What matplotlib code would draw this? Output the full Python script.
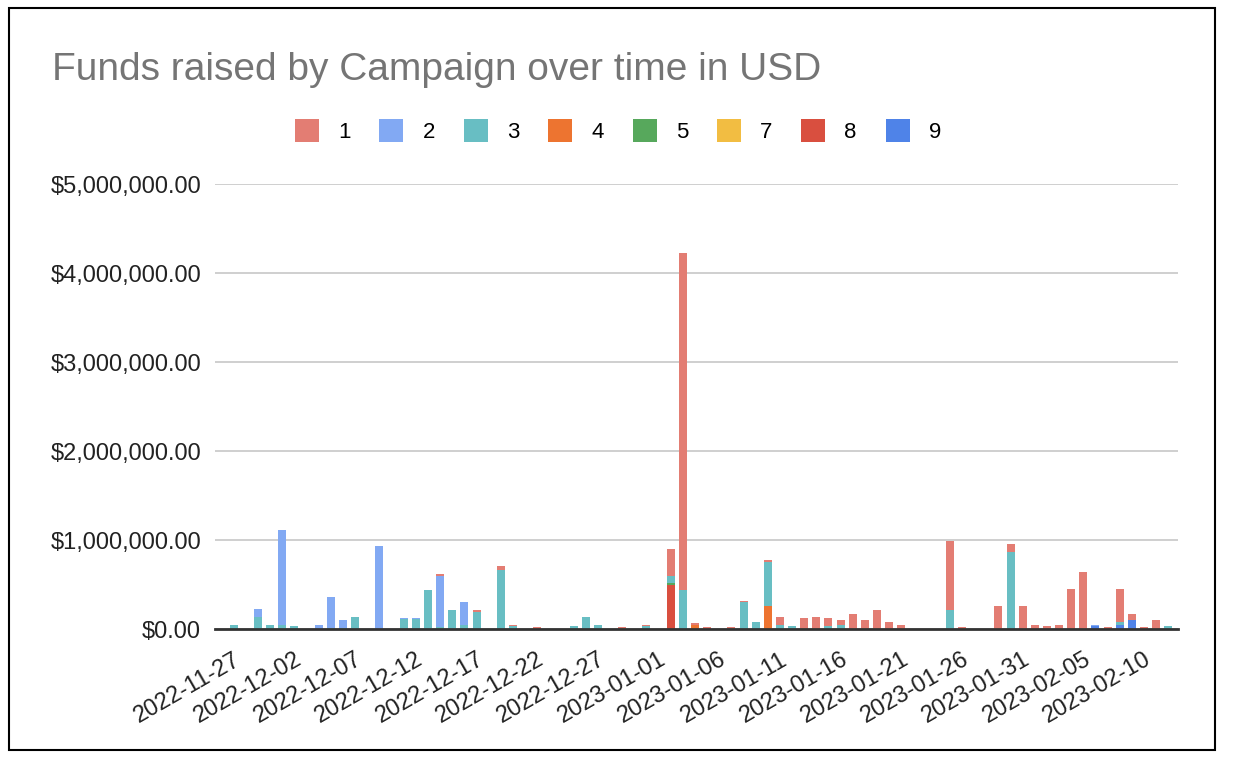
import pandas as pd
import matplotlib
matplotlib.use("Agg")
import matplotlib.pyplot as plt
import matplotlib.dates as mdates
from matplotlib.ticker import FuncFormatter, MultipleLocator
from matplotlib.patches import Rectangle

plt.rcParams['font.family'] = ['Liberation Sans', 'DejaVu Sans']

# days that have donations
dates = [
    '2022-11-27', '2022-11-29', '2022-11-30', '2022-12-01', '2022-12-02', '2022-12-04',
    '2022-12-05', '2022-12-06', '2022-12-07', '2022-12-09', '2022-12-11', '2022-12-12',
    '2022-12-13', '2022-12-14', '2022-12-15', '2022-12-16', '2022-12-17', '2022-12-19',
    '2022-12-20', '2022-12-22', '2022-12-25', '2022-12-26', '2022-12-27', '2022-12-29',
    '2022-12-31', '2023-01-02', '2023-01-03', '2023-01-04', '2023-01-05', '2023-01-07',
    '2023-01-08', '2023-01-09', '2023-01-10', '2023-01-11', '2023-01-12', '2023-01-13',
    '2023-01-14', '2023-01-15', '2023-01-16', '2023-01-17', '2023-01-18', '2023-01-19',
    '2023-01-20', '2023-01-21', '2023-01-25', '2023-01-26', '2023-01-29', '2023-01-30',
    '2023-01-31', '2023-02-01', '2023-02-02', '2023-02-03', '2023-02-04', '2023-02-05',
    '2023-02-06', '2023-02-07', '2023-02-08', '2023-02-09', '2023-02-10', '2023-02-11',
    '2023-02-12',
]

# funds per campaign, thousands of USD
camp1 = [0, 0, 0, 0, 0, 0, 0, 0, 0, 0, 0, 0, 0, 25, 0, 0, 20, 45, 20, 25, 0, 0, 0, 25,
         20, 310, 3785, 20, 25, 25, 20, 0, 20, 90, 0, 120, 140, 90, 50, 165, 100, 210,
         75, 50, 780, 25, 255, 90, 255, 50, 30, 50, 455, 635, 10, 25, 380, 65, 25, 100, 0]
camp2 = [0, 90, 0, 1060, 0, 50, 355, 85, 0, 930, 10, 10, 0, 570, 0, 250, 0, 0, 0, 0, 0,
         0, 0, 0, 0, 0, 0, 0, 0, 0, 0, 0, 0, 0, 0, 0, 0, 0, 0, 0, 0, 0, 0, 0, 0, 0, 0,
         0, 0, 0, 0, 0, 0, 0, 10, 0, 0, 0, 0, 0, 0]
camp3 = [50, 140, 50, 50, 30, 0, 10, 15, 140, 0, 110, 110, 435, 20, 210, 50, 190, 660,
         30, 0, 30, 140, 50, 0, 30, 70, 435, 0, 0, 0, 300, 75, 495, 50, 30, 0, 0, 30, 50,
         0, 0, 0, 0, 0, 210, 0, 0, 860, 0, 0, 0, 0, 0, 0, 0, 0, 25, 0, 0, 0, 30]
camp4 = [0] * 27 + [50, 0, 0, 0, 0, 255] + [0] * 28
camp5 = [0] * 25 + [20] + [0] * 35
camp7 = [0] * 61
camp8 = [0] * 25 + [500] + [0] * 35
camp9 = [0] * 54 + [30, 0, 50, 100, 0, 0, 0]

names = ['1', '2', '3', '4', '5', '7', '8', '9']
series = [camp1, camp2, camp3, camp4, camp5, camp7, camp8, camp9]
colors = ['#e37d73', '#82a9f3', '#68bec3', '#ed7430', '#57a85c', '#f2bd42', '#d94f3f', '#4f83e8']

x = pd.to_datetime(dates)

fig = plt.figure(figsize=(12.36, 7.66), dpi=100)
ax = fig.add_axes([215 / 1236, 1 - 629 / 766, (1178 - 215) / 1236, (629 - 184) / 766])

# stack from the last campaign at the bottom up to campaign 1 on top
bottom = [0.0] * len(dates)
handles = {}
for name, vals, col in reversed(list(zip(names, series, colors))):
    usd = [v * 1000 for v in vals]
    bars = ax.bar(x, usd, bottom=bottom, width=0.66, color=col, linewidth=0)
    handles[name] = bars
    bottom = [b + u for b, u in zip(bottom, usd)]

start = pd.Timestamp('2022-11-27')
ax.set_xlim(start - pd.Timedelta(days=1.55), start + pd.Timedelta(days=77.8))
ax.set_ylim(0, 5000000)
ax.yaxis.set_major_locator(MultipleLocator(1000000))
ax.yaxis.set_major_formatter(FuncFormatter(lambda v, p: f'${v:,.2f}'))
ax.set_xticks(pd.date_range('2022-11-27', '2023-02-10', freq='5D'))
ax.xaxis.set_major_formatter(mdates.DateFormatter('%Y-%m-%d'))
plt.setp(ax.get_xticklabels(), rotation=30, ha='right', va='top', rotation_mode='anchor')
ax.tick_params(axis='both', length=0, labelsize=17, colors='#222222')
ax.tick_params(axis='x', pad=14)
ax.tick_params(axis='y', pad=10)

ax.grid(axis='y', color='#cccccc', linewidth=1.3)
ax.set_axisbelow(True)
for s in ['top', 'right', 'left']:
    ax.spines[s].set_visible(False)
ax.spines['bottom'].set_color('#333333')
ax.spines['bottom'].set_linewidth(2)
ax.spines['bottom'].set_zorder(5)

fig.text(52 / 1236, 1 - 70 / 766, 'Funds raised by Campaign over time in USD',
         fontsize=28, color='#757575', va='center', ha='left')

fig.legend([handles[n] for n in names], names, loc='center', ncol=8,
           bbox_to_anchor=(0.5, 1 - 131 / 766), frameon=False, fontsize=16,
           handlelength=1.08, handleheight=1.2, handletextpad=0.86, columnspacing=1.3)

fig.patches.append(Rectangle((9 / 1236, 1 - 750 / 766), (1215 - 9) / 1236, (750 - 8) / 766,
                             transform=fig.transFigure, fill=False, edgecolor='black',
                             linewidth=1.5))

fig.savefig('out.png', dpi=100, facecolor='white')
